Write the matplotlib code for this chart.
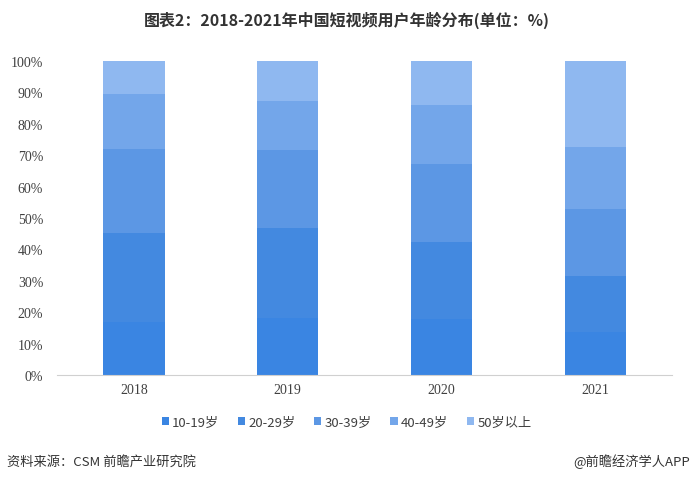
import numpy as np
import matplotlib.pyplot as plt

years = ["2018", "2019", "2020", "2021"]
groups = ["10-19岁", "20-29岁", "30-39岁", "40-49岁", "50岁以上"]
age_10_19 = [16.8, 18.1, 17.8, 13.6]
age_20_29 = [28.5, 28.7, 24.7, 17.9]
age_30_39 = [26.7, 25.0, 24.7, 21.4]
age_40_49 = [17.6, 15.6, 18.8, 19.7]
age_50_up = [10.4, 12.6, 14.0, 27.4]
colors = ["#3a85e2", "#4389e0", "#5c97e4", "#73a6ea", "#8fb8f0"]

serif_cjk = ["Liberation Serif", "Noto Sans CJK SC"]
sans_cjk = ["Noto Sans CJK SC", "DejaVu Sans"]

fig = plt.figure(figsize=(6.93, 4.81), dpi=100)
ax = fig.add_axes([0.0823, 0.2183, 0.8877, 0.6527])

x = np.arange(len(years))
bottom = np.zeros(len(years))
for vals, lab, col in zip([age_10_19, age_20_29, age_30_39, age_40_49, age_50_up], groups, colors):
    ax.bar(x, vals, 0.4, bottom=bottom, color=col, label=lab)
    bottom += np.array(vals)

ax.set_xlim(-0.5, 3.5)
ax.set_ylim(0, 100)
ax.set_yticks(np.arange(0, 101, 10))
ax.set_yticklabels([f"{v}%" for v in range(0, 101, 10)], family=serif_cjk, fontsize=10, color="#404040")
ax.set_xticks(x)
ax.set_xticklabels(years, family=serif_cjk, fontsize=10, color="#404040")
ax.tick_params(length=0, pad=6)
ax.tick_params(axis="y", pad=10)
for s in ["top", "right", "left"]:
    ax.spines[s].set_visible(False)
ax.spines["bottom"].set_color("#d0d0d0")

fig.text(0.5, 1 - 20 / 481, "图表2：2018-2021年中国短视频用户年龄分布(单位：%)",
         ha="center", va="center", fontsize=11.5, fontweight="bold",
         family=sans_cjk, color="#333333")

leg = fig.legend(loc="center", bbox_to_anchor=(0.5, 1 - 423 / 481), ncol=5,
                 frameon=False, handlelength=0.55, handleheight=0.55, handletextpad=0.25,
                 columnspacing=1.4, prop={"family": sans_cjk, "size": 9.5})
for t in leg.get_texts():
    t.set_color("#404040")

fig.text(7 / 693, 1 - 462 / 481, "资料来源：CSM 前瞻产业研究院", ha="left", va="center",
         fontsize=9.5, family=sans_cjk, color="#333333")
fig.text(690 / 693, 1 - 462 / 481, "@前瞻经济学人APP", ha="right", va="center",
         fontsize=9.5, family=sans_cjk, color="#333333")

fig.savefig("out.png", dpi=100)
